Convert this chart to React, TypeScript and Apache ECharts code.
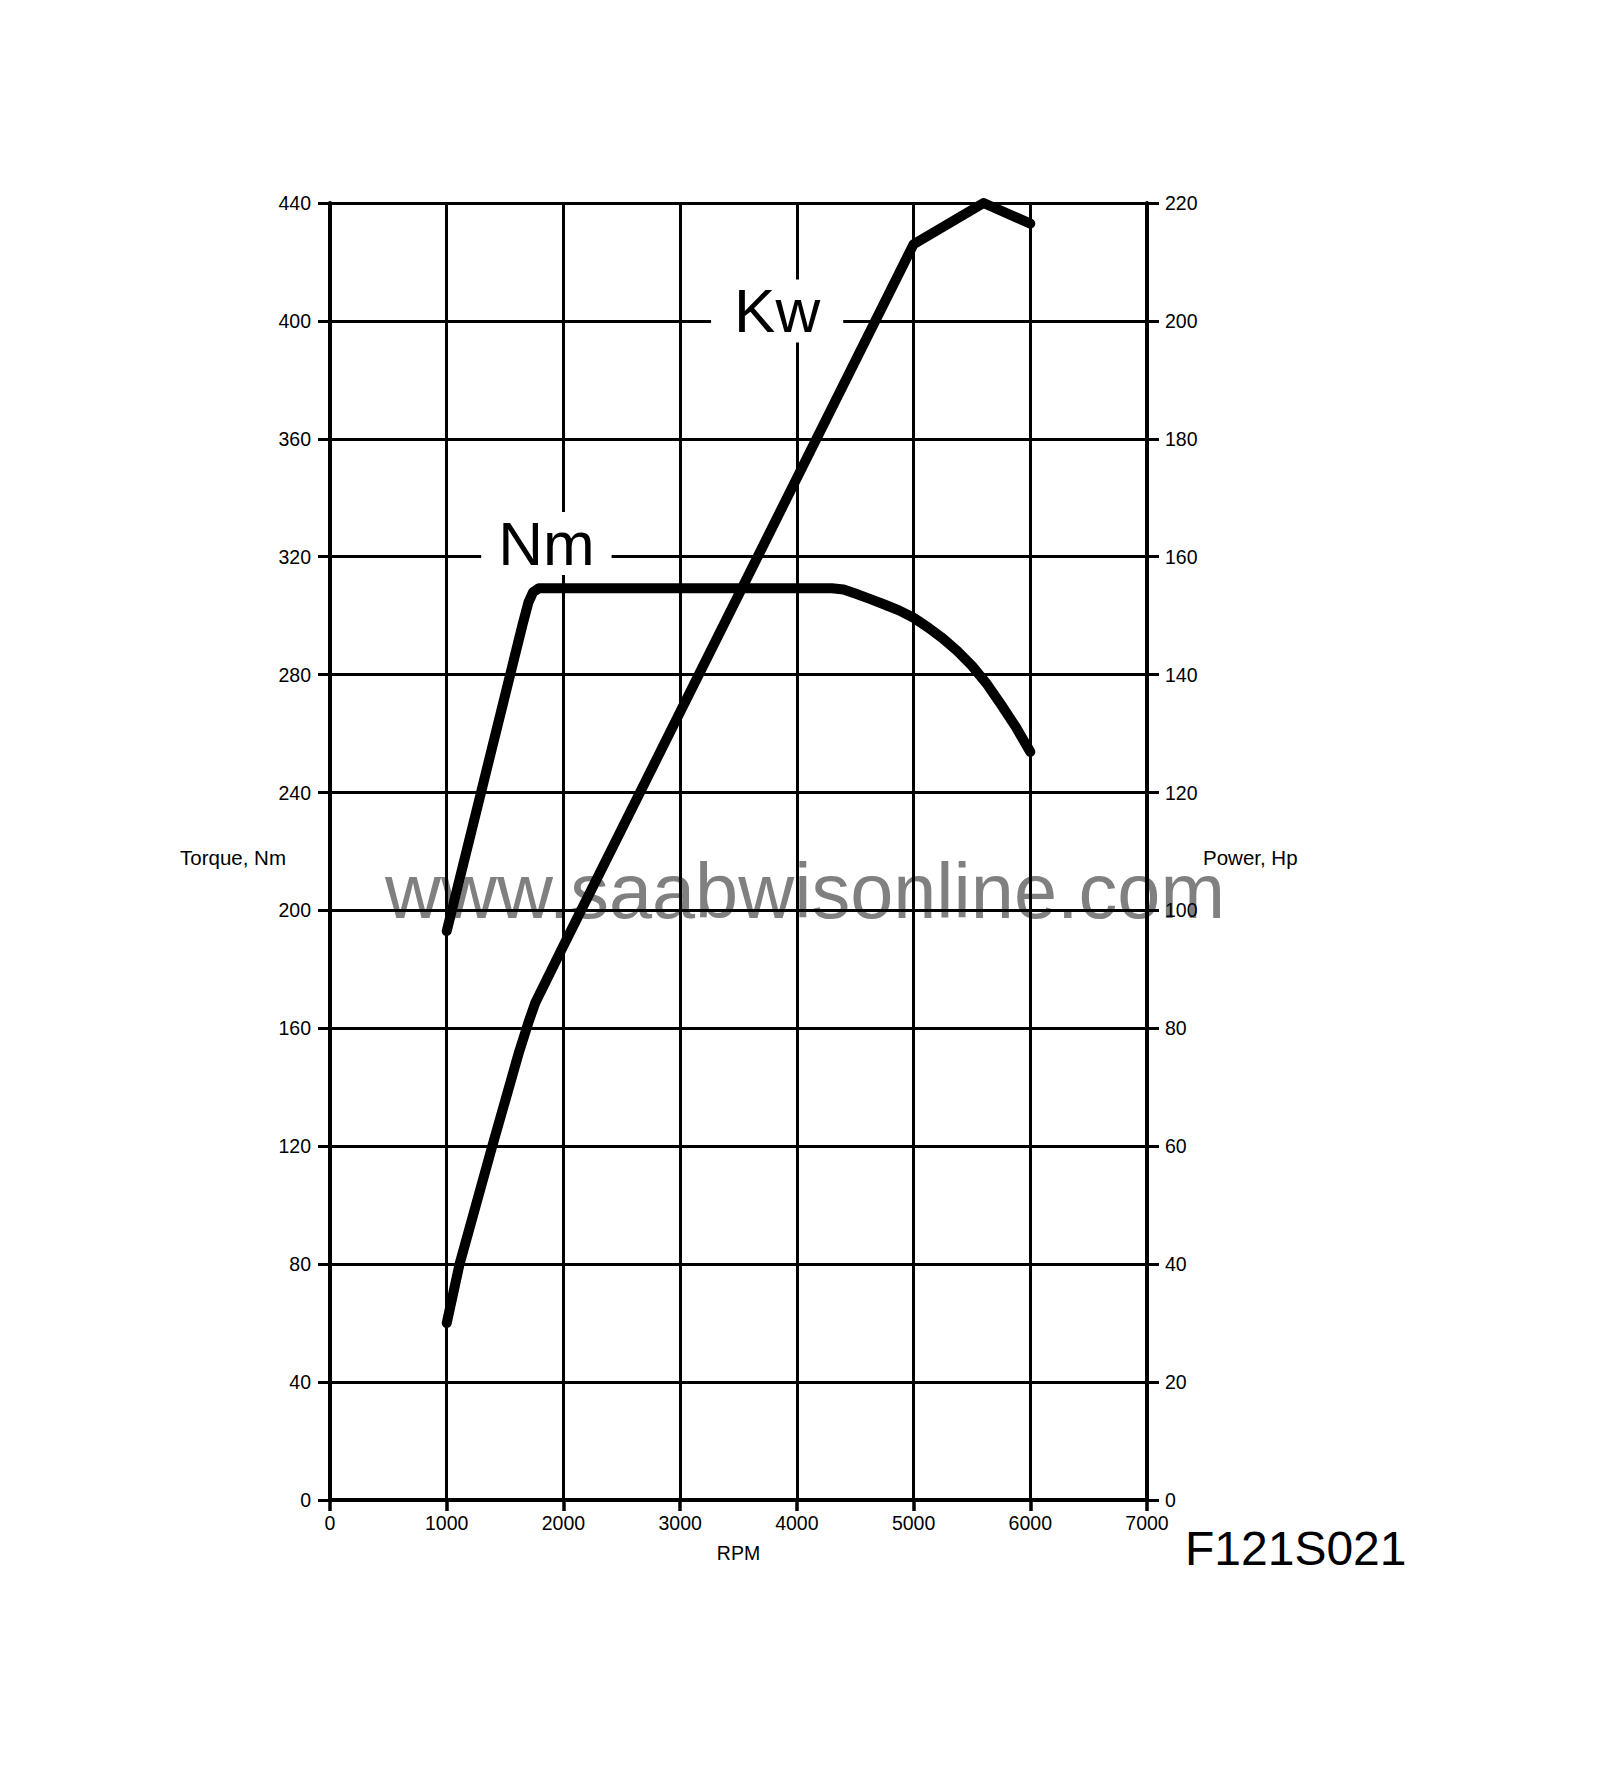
import {useEffect, useRef} from 'react';
import * as echarts from 'echarts';

// torque curve, Nm (left axis)
const torqueRpm = [1000, 1650, 1700, 1740, 1790, 4300, 4400, 4500, 4625, 4750, 4875, 5000, 5125, 5250, 5375, 5500, 5625, 5750, 5875, 6000];
const torqueNm = [193, 297, 304.5, 308, 309.3, 309.3, 308.9, 307.5, 305.7, 303.8, 301.8, 299.3, 296, 292.3, 288, 283, 277, 269.8, 262.3, 253.8];

// power curve, Hp (right axis)
const powerRpm = [1000, 1110, 1390, 1620, 1700, 1760, 1850, 2000, 5000, 5600, 6000];
const powerHp = [30, 40, 60, 76, 81, 84.4, 88, 94, 213, 220, 216.5];

// where the curve labels sit, in data coordinates
const nmLabelAt = [1854, 324.5];
const kwLabelAt = [3831, 201.7];

const FONT = '"Liberation Sans", Arial, Helvetica, sans-serif';

export default function App() {
    const ref = useRef<HTMLDivElement | null>(null);

    useEffect(() => {
        if (!ref.current) return;
        const chart = echarts.init(ref.current, null, {renderer: 'svg'});

        const torque = torqueRpm.map((r, i) => [r, torqueNm[i]]);
        const power = powerRpm.map((r, i) => [r, powerHp[i]]);

        const tickLabel = {color: '#000', fontSize: 19.5, fontFamily: FONT, formatter: (v: number) => String(v)};
        const curveLabel = (text: string, pad: number) => ({
            show: true,
            position: 'inside',
            formatter: text,
            color: '#000',
            fontSize: 62,
            fontFamily: FONT,
            lineHeight: 63,
            backgroundColor: '#fff',
            padding: [0, pad]
        });

        chart.setOption({
            animation: false,
            backgroundColor: '#fff',
            grid: {left: 330, right: 454, top: 203, bottom: 274},
            xAxis: {
                type: 'value', min: 0, max: 7000, interval: 1000,
                name: 'RPM', nameLocation: 'middle', nameGap: 43,
                nameTextStyle: {color: '#000', fontSize: 19.5, fontFamily: FONT},
                axisLine: {show: true, onZero: false, lineStyle: {color: '#000', width: 4}},
                axisTick: {show: true, length: 11, lineStyle: {color: '#000', width: 3.5}},
                axisLabel: {...tickLabel, margin: 13},
                splitLine: {show: true, lineStyle: {color: '#000', width: 3}}
            },
            yAxis: [
                {
                    type: 'value', min: 0, max: 440, interval: 40, position: 'left',
                    axisLine: {show: true, onZero: false, lineStyle: {color: '#000', width: 4}},
                    axisTick: {show: true, length: 12, lineStyle: {color: '#000', width: 3}},
                    axisLabel: {...tickLabel, margin: 19},
                    splitLine: {show: true, lineStyle: {color: '#000', width: 3}}
                },
                {
                    type: 'value', min: 0, max: 220, interval: 20, position: 'right',
                    axisLine: {show: true, onZero: false, lineStyle: {color: '#000', width: 4}},
                    axisTick: {show: true, length: 12, lineStyle: {color: '#000', width: 3}},
                    axisLabel: {...tickLabel, margin: 18},
                    splitLine: {show: false}
                }
            ],
            series: [
                {
                    name: 'Nm', type: 'line', yAxisIndex: 0, data: torque,
                    symbol: 'none', smooth: false,
                    lineStyle: {color: '#000', width: 10, cap: 'round', join: 'round'},
                    markPoint: {
                        symbol: 'circle', symbolSize: 1,
                        itemStyle: {color: 'rgba(0,0,0,0)'},
                        label: curveLabel('Nm', 17),
                        data: [{coord: nmLabelAt}]
                    }
                },
                {
                    name: 'Kw', type: 'line', yAxisIndex: 1, data: power,
                    symbol: 'none', smooth: false,
                    lineStyle: {color: '#000', width: 10, cap: 'round', join: 'round'},
                    markPoint: {
                        symbol: 'circle', symbolSize: 1,
                        itemStyle: {color: 'rgba(0,0,0,0)'},
                        label: curveLabel('Kw', 23),
                        data: [{coord: kwLabelAt}]
                    }
                }
            ],
            graphic: [
                {
                    type: 'text', x: 385, y: 891, z: -10,
                    style: {
                        text: 'www.saabwisonline.com', fill: '#808080',
                        fontSize: 77.5, fontFamily: FONT, verticalAlign: 'middle'
                    }
                },
                {
                    type: 'text', x: 286, y: 857,
                    style: {
                        text: 'Torque, Nm', fill: '#000', fontSize: 20.5, fontFamily: FONT,
                        align: 'right', verticalAlign: 'middle'
                    }
                },
                {
                    type: 'text', x: 1203, y: 857,
                    style: {
                        text: 'Power, Hp', fill: '#000', fontSize: 20.5, fontFamily: FONT,
                        align: 'left', verticalAlign: 'middle'
                    }
                },
                {
                    type: 'text', x: 1185, y: 1548,
                    style: {
                        text: 'F121S021', fill: '#000',
                        fontSize: 48, fontFamily: FONT, verticalAlign: 'middle'
                    }
                }
            ]
        });

        return () => chart.dispose();
    }, []);

    return <div ref={ref} style={{position: 'absolute', left: 0, top: 0, width: 1601, height: 1774}}/>;
}
